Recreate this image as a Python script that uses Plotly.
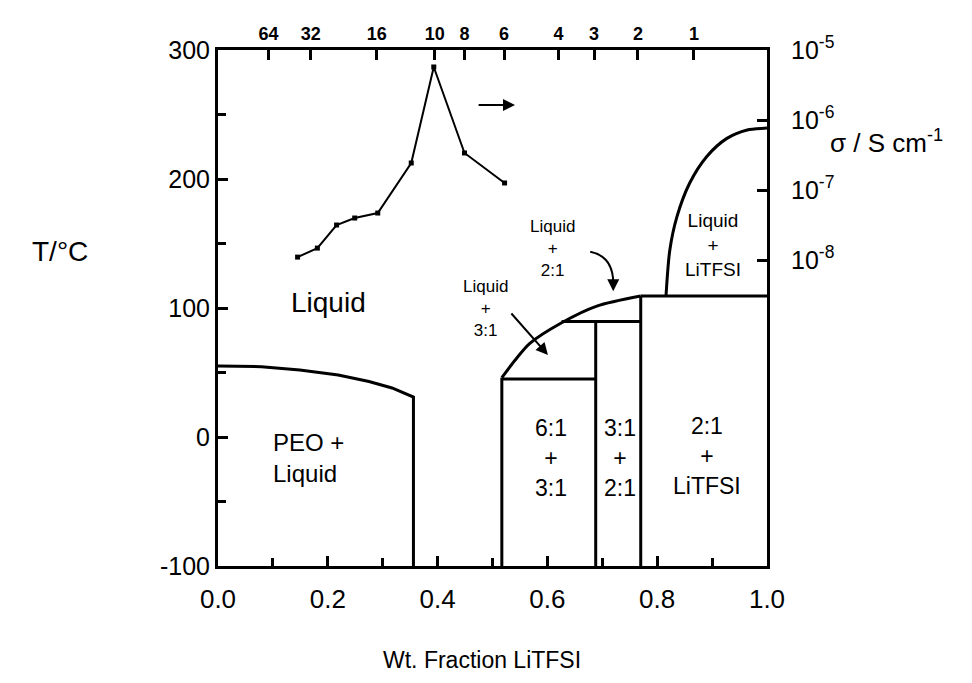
import plotly.graph_objects as go

# ---------------- data ----------------
# conductivity vs wt fraction (right log axis)
cond_x = [0.145, 0.181, 0.216, 0.249, 0.291, 0.352, 0.393, 0.449, 0.522]
cond_sigma = [1.10e-8, 1.48e-8, 3.16e-8, 3.98e-8, 4.69e-8, 2.43e-7, 5.72e-6, 3.38e-7, 1.26e-7]

# PEO liquidus + eutectic boundary
peo_liq_x = [0.0, 0.079, 0.149, 0.219, 0.275, 0.317, 0.356, 0.356]
peo_liq_T = [55, 54.5, 52, 48, 43, 38, 31, -100]

# liquidus of 3:1 / 2:1 region
mid_liq_x = [0.517, 0.541, 0.568, 0.626, 0.690, 0.770]
mid_liq_T = [46, 59.5, 72.6, 88.6, 101.5, 109.3]

# LiTFSI liquidus
litfsi_liq_x = [0.816, 0.823, 0.836, 0.859, 0.890, 0.927, 0.964, 0.995, 1.0]
litfsi_liq_T = [109, 145, 170.8, 196.7, 217.3, 231.5, 238, 239.3, 239.5]

# straight phase boundaries (x pairs, T pairs)
seg_x = [[0.517, 0.517], [0.517, 0.688], [0.688, 0.688], [0.626, 0.770], [0.770, 0.770], [0.770, 1.0]]
seg_T = [[-100, 46], [45, 45], [-100, 89.5], [89.5, 89.5], [-100, 109.3], [109.3, 109.3]]

# axis ticks
x_ticks = [0.0, 0.2, 0.4, 0.6, 0.8, 1.0]
x_ticklabels = ["0.0", "0.2", "0.4", "0.6", "0.8", "1.0"]
x_minor = [0.1, 0.3, 0.5, 0.7, 0.9]
T_ticks = [-100, 0, 100, 200, 300]
T_ticklabels = ["-100", "0", "100", "200", "300"]
T_minor = [-50, 50, 150, 250]
top_tick_pos = [0.092, 0.169, 0.289, 0.395, 0.449, 0.521, 0.620, 0.685, 0.765, 0.867]
top_tick_labels = ["64", "32", "16", "10", "8", "6", "4", "3", "2", "1"]
sigma_ticks = [1e-5, 1e-6, 1e-7, 1e-8]
sigma_ticklabels = ["10<sup>-5</sup>", "10<sup>-6</sup>", "10<sup>-7</sup>", "10<sup>-8</sup>"]

FONT = "Arial, Liberation Sans, sans-serif"
LW = 3

fig = go.Figure()

# invisible trace so the top axis is drawn
fig.add_trace(go.Scatter(x=[0.5], y=[0], xaxis="x2", yaxis="y", mode="markers",
                         marker=dict(opacity=0), hoverinfo="skip", showlegend=False))

fig.add_trace(go.Scatter(x=peo_liq_x, y=peo_liq_T, mode="lines",
                         line=dict(color="black", width=LW), showlegend=False))
fig.add_trace(go.Scatter(x=mid_liq_x, y=mid_liq_T, mode="lines",
                         line=dict(color="black", width=LW, shape="spline", smoothing=0.8), showlegend=False))
fig.add_trace(go.Scatter(x=litfsi_liq_x, y=litfsi_liq_T, mode="lines",
                         line=dict(color="black", width=LW, shape="spline", smoothing=0.8), showlegend=False))
for sx, sT in zip(seg_x, seg_T):
    fig.add_trace(go.Scatter(x=sx, y=sT, mode="lines",
                             line=dict(color="black", width=LW), showlegend=False))

fig.add_trace(go.Scatter(x=cond_x, y=cond_sigma, xaxis="x", yaxis="y2", mode="lines+markers",
                         line=dict(color="black", width=2),
                         marker=dict(symbol="square", size=5, color="black"), showlegend=False))

ann = []
def label(x, y, text, size, align="center"):
    ann.append(dict(x=x, y=y, xref="x", yref="y", text=text, showarrow=False,
                    font=dict(family=FONT, size=size, color="black"), align=align,
                    xanchor="center", yanchor="middle"))

label(0.202, 104.6, "Liquid", 28)
label(0.164, -15.9, "PEO +<br>Liquid", 24, align="left")
label(0.607, -15.9, "6:1<br>+<br>3:1", 23)
label(0.732, -15.9, "3:1<br>+<br>2:1", 23)
label(0.891, -15.1, "2:1<br>+<br>LiTFSI", 23)
label(0.902, 148.8, "Liquid<br>+<br>LiTFSI", 19)
label(0.610, 146, "Liquid<br>+<br>2:1", 17)
label(0.488, 100, "Liquid<br>+<br>3:1", 17)

# arrows
def arrow(x0, y0, x1, y1):
    ann.append(dict(x=x1, y=y1, ax=x0, ay=y0, xref="x", yref="y", axref="x", ayref="y",
                    text="", showarrow=True, arrowhead=2, arrowsize=1.2, arrowwidth=2,
                    arrowcolor="black"))

arrow(0.472, 257.4, 0.541, 257.4)
arrow(0.532, 96.9, 0.601, 63.6)
arrow(0.72, 121, 0.72, 113)

# axis titles
ann.append(dict(x=-0.288, y=0.609, xref="paper", yref="paper", text="T/°C", showarrow=False,
                font=dict(family=FONT, size=28, color="black"), xanchor="center", yanchor="middle"))
ann.append(dict(x=1.217, y=0.822, xref="paper", yref="paper", text="σ / S cm<sup>-1</sup>",
                showarrow=False, font=dict(family=FONT, size=26, color="black"),
                xanchor="center", yanchor="middle"))
ann.append(dict(x=0.481, y=-0.182, xref="paper", yref="paper", text="Wt. Fraction LiTFSI",
                showarrow=False, font=dict(family=FONT, size=23, color="black"),
                xanchor="center", yanchor="middle"))

shapes = [dict(type="path", xref="x", yref="y",
               path="M 0.678,143.6 Q 0.72,140 0.72,119",
               line=dict(color="black", width=2))]

axis_common = dict(showline=True, linecolor="black", linewidth=LW, ticks="inside",
                   tickcolor="black", tickwidth=3, showgrid=False, zeroline=False, ticklen=10)
minor_common = dict(ticks="inside", ticklen=8, tickwidth=3, tickcolor="black", showgrid=False)

fig.update_layout(
    width=972, height=683, autosize=False,
    margin=dict(l=218, r=205, t=50, b=117),
    paper_bgcolor="white", plot_bgcolor="white",
    font=dict(family=FONT, color="black"),
    xaxis=dict(range=[0, 1], tickmode="array", tickvals=x_ticks, ticktext=x_ticklabels,
               tickfont=dict(family=FONT, size=26, color="black"), ticklabelstandoff=8,
               minor=dict(tickmode="array", tickvals=x_minor, **minor_common),
               **axis_common),
    xaxis2=dict(range=[0, 1], overlaying="x", side="top", anchor="y", tickmode="array",
                tickvals=top_tick_pos, ticktext=top_tick_labels,
                tickfont=dict(family=FONT, size=18, color="black", weight="bold"),
                **axis_common),
    yaxis=dict(range=[-100, 300], tickmode="array", tickvals=T_ticks, ticktext=T_ticklabels,
               tickfont=dict(family=FONT, size=25, color="black"),
               minor=dict(tickmode="array", tickvals=T_minor, **minor_common),
               **axis_common),
    yaxis2=dict(type="log", range=[-12.371, -5], overlaying="y", side="right", anchor="x",
                tickmode="array", tickvals=sigma_ticks, ticktext=sigma_ticklabels,
                tickfont=dict(family=FONT, size=25, color="black"), ticklabelstandoff=16,
                **axis_common),
    annotations=ann,
    shapes=shapes,
)

fig.write_html("out.html")
